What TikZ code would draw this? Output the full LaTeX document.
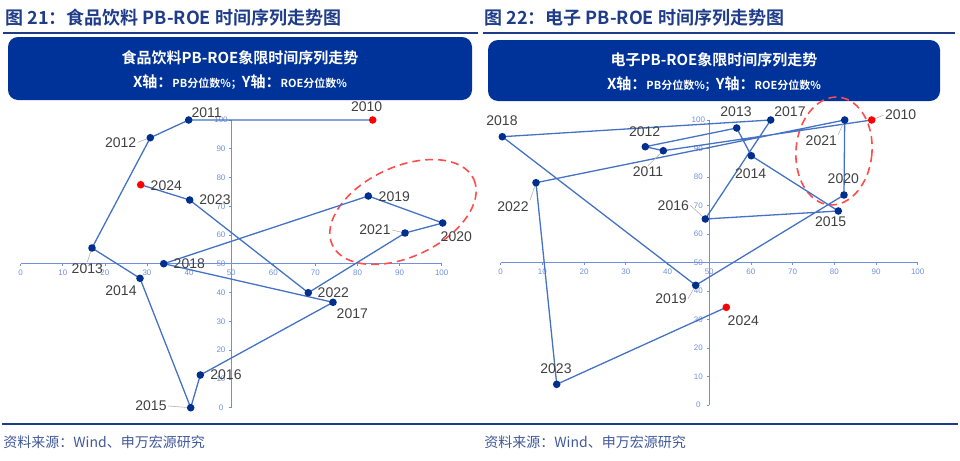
\documentclass[tikz,border=0pt]{standalone}
\usepackage{fontspec}
\setmainfont{Liberation Sans}
\newfontfamily\cjk{Noto Sans CJK SC}
\newfontfamily\cjkb{Noto Sans CJK SC Bold}
\begin{document}
\begin{tikzpicture}[x=0.5pt,y=-0.5pt]
\definecolor{navy}{HTML}{00339A}
\definecolor{ttl}{HTML}{1F3C88}
\definecolor{axc}{HTML}{7090DD}
\definecolor{ser}{HTML}{4472C4}
\definecolor{dot}{HTML}{002F8E}
\definecolor{lbl}{HTML}{404040}
\tikzset{
 dotn/.style={circle,fill=dot,inner sep=0pt,minimum size=3.8pt},
 rdot/.style={circle,fill=red,inner sep=0pt,minimum size=3.8pt},
 serline/.style={draw=ser,line width=0.65pt},
 yr/.style={font=\fontsize{7}{8}\selectfont,text=lbl,inner sep=0.5pt},
 tk/.style={font=\fontsize{4}{4.5}\selectfont,text=axc,inner sep=0pt},
 axl/.style={draw=axc,line width=0.4pt},
 lead/.style={draw=gray!60,line width=0.3pt},
 hdr/.style={fill=navy,rounded corners=5pt},
 ttlx/.style={font=\cjkb\fontsize{9}{10}\selectfont,text=ttl,anchor=west,inner sep=0pt},
 src/.style={font=\cjk\fontsize{7}{8}\selectfont,text=ttl!85,anchor=west,inner sep=0pt},
}
\useasboundingbox (0,0) rectangle (960,461);
% titles
\node[ttlx] (t1) at (5,18) {图 21：食品饮料 PB-ROE 时间序列走势图};
\node[ttlx] (t2) at (484,18) {图 22：电子 PB-ROE 时间序列走势图};
\draw[ttl,line width=0.8pt] (3,33) -- (478,33);
\draw[ttl,line width=0.8pt] (483,33) -- (955,33);
% header boxes
\path[hdr] (8,37) rectangle (472,100);
\path[hdr] (488,40) rectangle (940,101);
\node[font=\cjkb\fontsize{7.5}{8}\selectfont,text=white] (h1a) at (240,58) {食品饮料PB-ROE象限时间序列走势};
\node[text=white] (h1b) at (240,82) {\cjkb\fontsize{7.5}{8}\selectfont X轴：\fontsize{5.5}{6}\selectfont PB分位数\%；\fontsize{7.5}{8}\selectfont Y轴：\fontsize{5.5}{6}\selectfont ROE分位数\%};
\node[font=\cjkb\fontsize{7.5}{8}\selectfont,text=white] (h2a) at (714,60) {电子PB-ROE象限时间序列走势};
\node[text=white] (h2b) at (714,84) {\cjkb\fontsize{7.5}{8}\selectfont X轴：\fontsize{5.5}{6}\selectfont PB分位数\%；\fontsize{7.5}{8}\selectfont Y轴：\fontsize{5.5}{6}\selectfont ROE分位数\%};
% bottom
\draw[ttl,line width=1pt] (2,424) -- (958,424);
\node[src] (s1) at (3,442) {资料来源：Wind、申万宏源研究};
\node[src] (s2) at (484,442) {资料来源：Wind、申万宏源研究};
% ---------- left axes
\draw[axl] (20.7,263.5) -- (441.7,263.5);
\draw[axl] (231.2,120) -- (231.2,407.7);
\foreach \i in {0,10,...,100}{
 \draw[axl] ({20.7+4.21*\i},263.5) -- ({20.7+4.21*\i},266);
 \node[tk] at ({20.7+4.21*\i},273) {\i};
 \draw[axl] (231.2,{407.7-2.877*\i}) -- (228.7,{407.7-2.877*\i});
 \node[tk] at (221,{407.7-2.877*\i}) {\i};
}
% left ellipse
\draw[red!70,dashed,dash pattern=on 4pt off 2.5pt,line width=0.8pt,rotate around={25:(403,212)}] (403,212) ellipse (78 and 45);
% left series
\foreach \n/\x/\y in {2010/372.7/120,2011/188.7/120,2012/150.3/137.7,2013/92/248,2014/140/278.3,2015/190.7/407.7,2016/200.3/375,2017/333/302.3,2018/163.7/263.7,2019/368.3/196,2020/442.7/223,2021/405/233,2022/308.3/292.7,2023/189.7/200,2024/140.7/184.7}
 \coordinate (L\n) at (\x,\y);
\draw[serline] (L2010)--(L2011)--(L2012)--(L2013)--(L2014)--(L2015)--(L2016)--(L2017)--(L2018)--(L2019)--(L2020)--(L2021)--(L2022)--(L2023)--(L2024);
\foreach \n/\x/\y in {2010/366.7/106.7,2011/206.7/112.7,2012/120.7/142.3,2013/87.3/268.3,2014/121/291,2015/151/406,2016/226/375,2017/352.3/313.7,2018/189.3/264,2019/394.3/196.3,2020/456.3/236.7,2021/375/230,2022/333.3/292.7,2023/215/200,2024/166.3/185.3}
 \node[yr] (LT\n) at (\x,\y) {\n};
\draw[lead] (LT2012.east) -- (L2012);
\draw[lead] (LT2013.north) -- (L2013);
\draw[lead] (LT2015.east) -- (L2015);
\draw[lead] (LT2021.east) -- (L2021);
\foreach \n in {2011,2012,2013,2014,2015,2016,2017,2018,2019,2020,2021,2022,2023}
 \node[dotn] (LP\n) at (L\n) {};
\node[rdot] (LP2010) at (L2010) {};
\node[rdot] (LP2024) at (L2024) {};
% ---------- right axes
\draw[axl] (500.7,262.7) -- (917.7,262.7);
\draw[axl] (709.3,120) -- (709.3,405);
\foreach \i in {0,10,...,100}{
 \draw[axl] ({500.7+4.17*\i},262.7) -- ({500.7+4.17*\i},265.2);
 \node[tk] at ({500.7+4.17*\i},272) {\i};
 \draw[axl] (709.3,{405-2.85*\i}) -- (706.8,{405-2.85*\i});
 \node[tk] at (698.3,{405-2.85*\i}) {\i};
}
\draw[red!70,dashed,dash pattern=on 4pt off 2.5pt,line width=0.8pt,rotate around={-5:(834,151)}] (834,151) ellipse (38 and 54);
\foreach \n/\x/\y in {2010/871.7/120,2011/663.3/150.7,2012/645.3/146.7,2013/736.7/128,2014/751.3/155.7,2015/838.3/211,2016/705.3/219,2017/770.7/120,2018/502.3/136.7,2019/695.7/285.3,2020/844/195,2021/844.7/120,2022/536/182.7,2023/556.7/384.3,2024/726.3/307.3}
 \coordinate (R\n) at (\x,\y);
\draw[serline] (R2010)--(R2011)--(R2012)--(R2013)--(R2014)--(R2015)--(R2016)--(R2017)--(R2018)--(R2019)--(R2020)--(R2021)--(R2022)--(R2023)--(R2024);
\foreach \n/\x/\y in {2010/900.7/115,2011/648/172,2012/644.7/131.3,2013/736/112,2014/750.7/173.3,2015/830.7/221.3,2016/673.3/205.3,2017/790/111.3,2018/502/121,2019/671/298.7,2020/843.3/179,2021/821.3/141,2022/513/206.7,2023/556/368.3,2024/743.3/321}
 \node[yr] (RT\n) at (\x,\y) {\n};
\draw[lead] (RT2010.west) -- (R2010);
\draw[lead] (RT2011.north) -- (R2011);
\draw[lead] (RT2016.east) -- (R2016);
\draw[lead] (RT2019.east) -- (R2019);
\draw[lead] (RT2021.north east) -- (R2021);
\draw[lead] (RT2022.north east) -- (R2022);
\foreach \n in {2011,2012,2013,2014,2015,2016,2017,2018,2019,2020,2021,2022,2023}
 \node[dotn] (RP\n) at (R\n) {};
\node[rdot] (RP2010) at (R2010) {};
\node[rdot] (RP2024) at (R2024) {};
\end{tikzpicture}
\end{document}
